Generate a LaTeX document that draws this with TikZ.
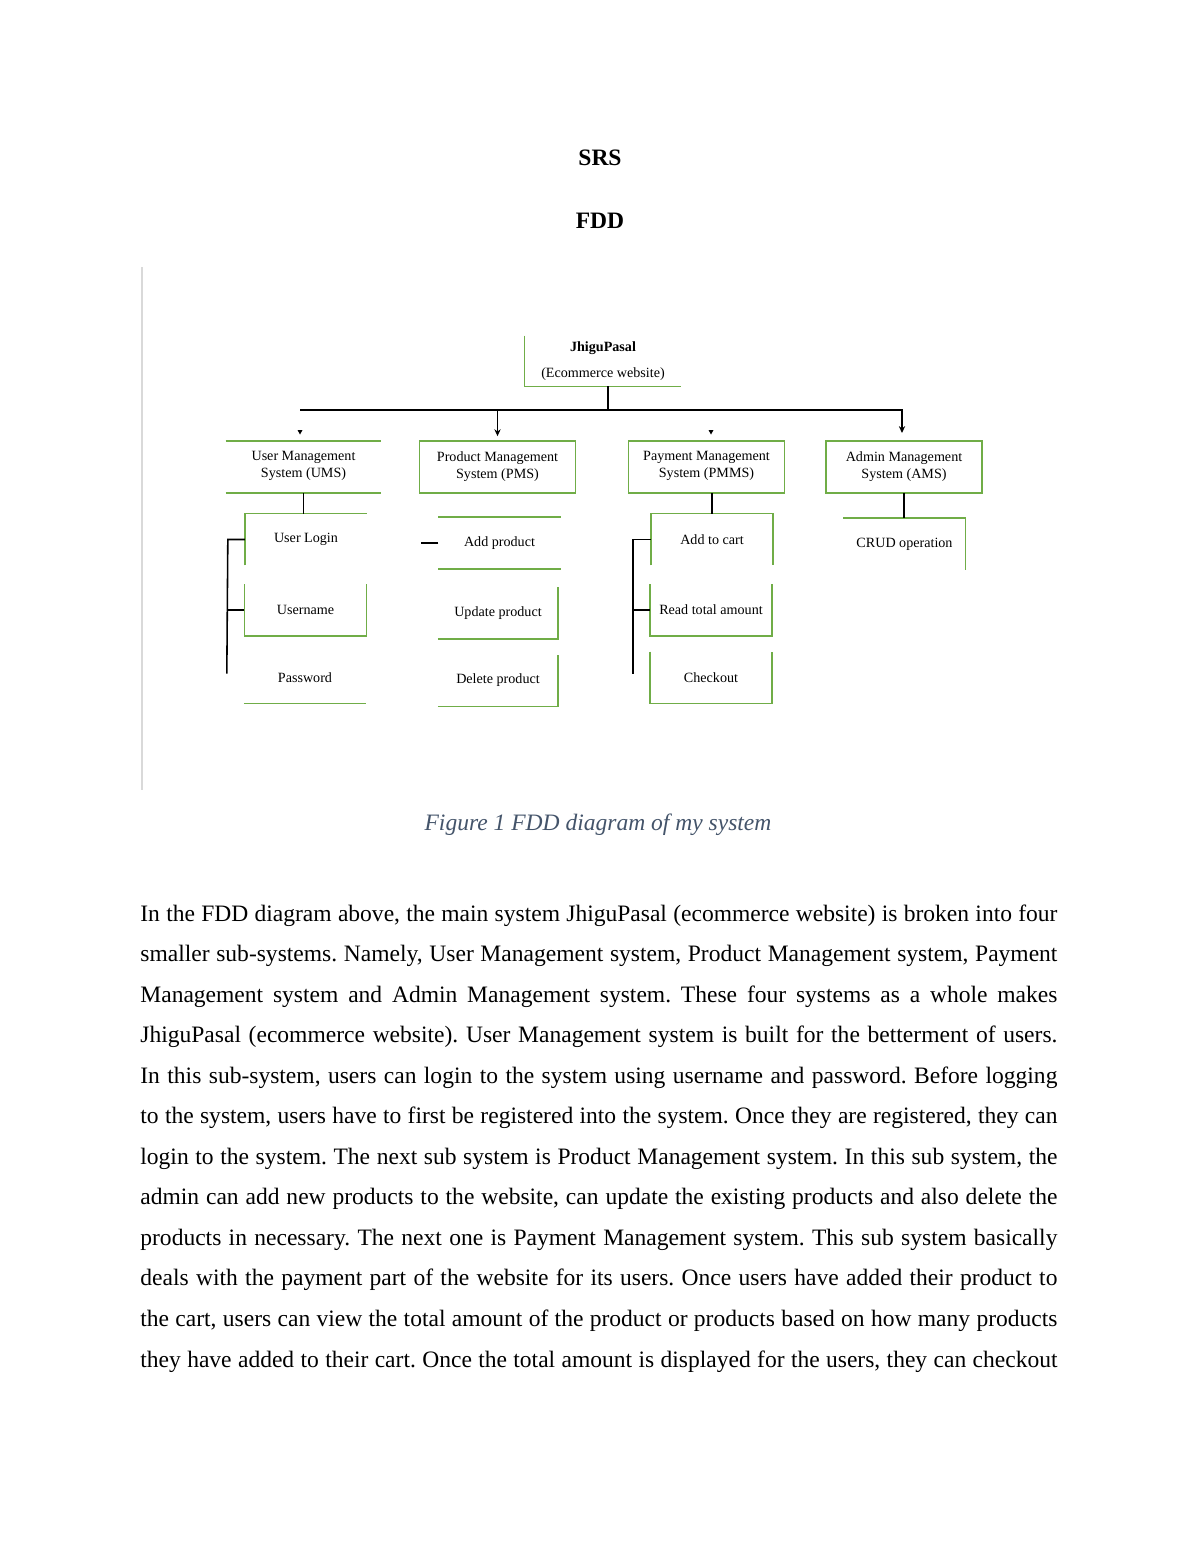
\documentclass[tikz,border=0pt]{standalone}
\usepackage{fontspec}
\setmainfont{Liberation Serif}
\usetikzlibrary{calc,arrows.meta}
\definecolor{boxgreen}{HTML}{70AD47}
\definecolor{captionblue}{HTML}{44546A}
\definecolor{rulegray}{HTML}{D9D9D9}
\newcommand{\pline}[1]{\makebox[467.7pt][s]{#1}}
\frenchspacing
\tikzset{
  fbox/.style={inner sep=0pt, minimum width=#1, minimum height=26pt, align=center,
    font=\fontsize{7.2}{8.7}\selectfont},
  fbox/.default=79pt,
  gline/.style={draw=boxgreen, line width=0.8pt},
  bline/.style={draw=black, line width=0.8pt},
  arr/.style={bline, -{Stealth[length=3.5pt,width=3.2pt]}},
  body/.style={anchor=base west, inner sep=0pt, font=\fontsize{12}{14}\selectfont\frenchspacing},
}
\begin{document}
\begin{tikzpicture}[x=0.51pt,y=-0.51pt]
\useasboundingbox[fill=white] (0,0) rectangle (1200,1553);

% titles
\node[anchor=base, inner sep=0pt, font=\fontsize{12}{14}\selectfont\bfseries] (srs) at (600,166) {SRS};
\node[anchor=base, inner sep=0pt, font=\fontsize{12}{14}\selectfont\bfseries] (fdd) at (600,229) {FDD};

% gray margin rule
\draw[rulegray, line width=1.3pt] (142,267) -- (142,790);

% root
\node[fbox=79.6pt, minimum height=25.5pt] (root) at (603,361)
  {\textbf{JhiguPasal}\\[4.5pt](Ecommerce website)};
\draw[gline] (root.north west) -- (root.south west) -- (root.south east);

% level 2
\node[fbox] (ums)  at (303.5,467) {User Management\\System (UMS)\\[-6.5pt]};
\node[fbox] (pms)  at (497.5,467) {Product Management\\System (PMS)\\[-6.5pt]};
\node[fbox] (pmms) at (706.5,467) {Payment Management\\System (PMMS)\\[-6.5pt]};
\node[fbox] (ams)  at (904,467)   {Admin Management\\System (AMS)\\[-6.5pt]};
\draw[gline] (ums.north west) -- (ums.north east);
\draw[gline] (ums.south west) -- (ums.south east);
\draw[gline] (pms.south west) rectangle (pms.north east);
\draw[gline] (pmms.south west) rectangle (pmms.north east);
\draw[gline] (ams.south west) rectangle (ams.north east);

% bus and arrows
\coordinate (bus) at ($(root.south)+(5,24)$);
\coordinate (busL) at (300,410);
\coordinate (busR) at (902,410);
\draw[bline] ($(root.south)+(5,0)$) -- (bus);
\draw[arr] (busL) -- (busR) -- ($(busR)+(0,23)$);
\draw[arr] (pms.north |- bus) -- ($(pms.north)+(0,-5)$);
\fill (297.5,430) -- (302.5,430) -- (300,434.5) -- cycle;
\fill (708.5,430) -- (713.5,430) -- (711,434.5) -- cycle;

% level 3 - UMS
\node[fbox=62pt] (ulogin) at (306,539.5) {User Login};
\node[fbox=62pt] (uname)  at (305.5,610) {Username};
\node[fbox=62pt] (upass)  at (305,677.5) {Password};
\draw[gline] (ulogin.south west) -- (ulogin.north west) -- (ulogin.north east);
\draw[gline] (uname.north west) -- (uname.south west) -- (uname.south east) -- (uname.north east);
\draw[gline] (upass.south west) -- (upass.south east);

% level 3 - PMS
\node[fbox=62pt] (addp) at (499.5,543) {Add product};
\node[fbox=61pt] (updp) at (498,613)   {Update product};
\node[fbox=61pt] (delp) at (498,680.5) {Delete product};
\draw[gline] (addp.north west) -- (addp.north east);
\draw[gline] (addp.south west) -- (addp.south east);
\draw[gline] (updp.south west) -- (updp.south east) -- (updp.north east);
\draw[gline] (delp.south west) -- (delp.south east) -- (delp.north east);

% level 3 - PMMS
\node[fbox=62pt] (cart)  at (712,539.5) {Add to cart};
\node[fbox=62pt] (total) at (711,610)   {Read total amount};
\node[fbox=62pt] (chk)   at (711,677.5) {Checkout};
\draw[gline] (cart.south west) -- (cart.north west) -- (cart.north east) -- (cart.south east);
\draw[gline] (total.north west) -- (total.south west) -- (total.south east) -- (total.north east);
\draw[gline] (chk.north west) -- (chk.south west) -- (chk.south east) -- (chk.north east);

% level 3 - AMS
\node[fbox=62pt] (crud) at (904.5,544) {CRUD operation};
\draw[gline] (crud.north west) -- (crud.north east) -- (crud.south east);

% connectors level 2 -> 3
\draw[bline] (ums.south) -- (ums.south |- ulogin.north);
\draw[bline] (cart.north) -- (cart.north |- pmms.south);
\draw[bline] (ams.south) -- (ams.south |- crud.north);
\draw[bline] (ulogin.west) -- ++(-17,0) -- ($(upass.west)+(-17,-4)$);
\draw[bline] (uname.west) -- ++(-17,0);
\draw[bline] (addp.west) -- ++(-17,0);
\draw[bline] (cart.west) -- ++(-18,0) -- ($(chk.west)+(-17,-4)$);
\draw[bline] (total.west) -- ++(-17,0);

% caption
\node[anchor=base, inner sep=0pt, text=captionblue, font=\fontsize{12}{14}\selectfont\itshape] (cap) at (598,830)
  {Figure 1 FDD diagram of my system};

% body text
\node[body] (l1)  at (140,921)    {\pline{In the FDD diagram above, the main system JhiguPasal (ecommerce website) is broken into four}};
\node[body] (l2)  at (140,961.55) {\pline{smaller sub-systems. Namely, User Management system, Product Management system, Payment}};
\node[body] (l3)  at (140,1002.1) {\pline{Management system and Admin Management system. These four systems as a whole makes}};
\node[body] (l4)  at (140,1042.65){\pline{JhiguPasal (ecommerce website). User Management system is built for the betterment of users.}};
\node[body] (l5)  at (140,1083.2) {\pline{In this sub-system, users can login to the system using username and password. Before logging}};
\node[body] (l6)  at (140,1123.75){\pline{to the system, users have to first be registered into the system. Once they are registered, they can}};
\node[body] (l7)  at (140,1164.3) {\pline{login to the system. The next sub system is Product Management system. In this sub system, the}};
\node[body] (l8)  at (140,1204.85){\pline{admin can add new products to the website, can update the existing products and also delete the}};
\node[body] (l9)  at (140,1245.4) {\pline{products in necessary. The next one is Payment Management system. This sub system basically}};
\node[body] (l10) at (140,1285.95){\pline{deals with the payment part of the website for its users. Once users have added their product to}};
\node[body] (l11) at (140,1326.5) {\pline{the cart, users can view the total amount of the product or products based on how many products}};
\node[body] (l12) at (140,1367.05){\pline{they have added to their cart. Once the total amount is displayed for the users, they can checkout}};
\end{tikzpicture}
\end{document}
